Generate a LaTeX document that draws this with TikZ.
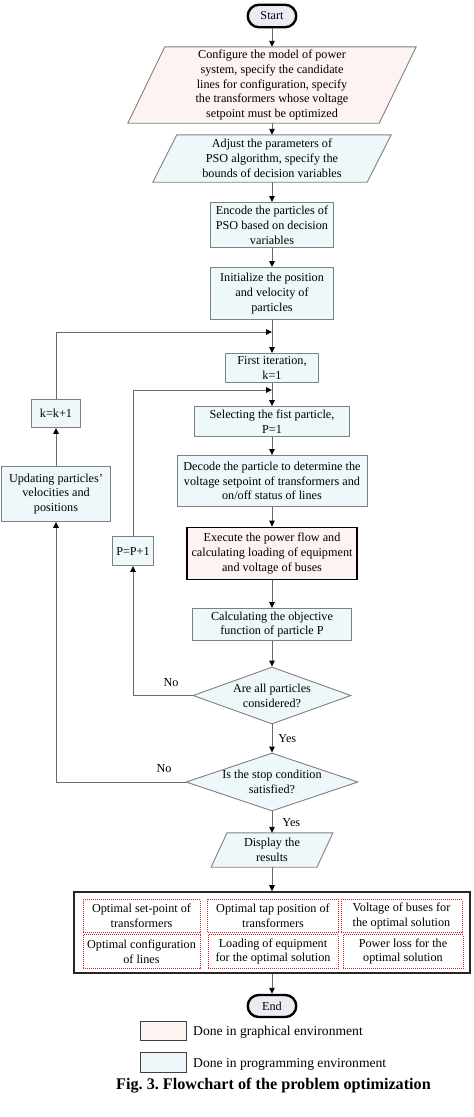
\documentclass[tikz,border=0pt]{standalone}
\usepackage{fontspec}
\setmainfont{Liberation Serif}
\usetikzlibrary{shapes.geometric,shapes.misc,arrows.meta}
\pgfdeclarelayer{background}
\pgfsetlayers{background,main}
\definecolor{pinkf}{HTML}{FDF3F1}
\definecolor{bluef}{HTML}{EEF7FA}
\definecolor{bord}{HTML}{808080}
\definecolor{lin}{HTML}{6A6A6A}
\definecolor{termf}{HTML}{ECEBF3}
\definecolor{redd}{HTML}{D02828}
\frenchspacing
\begin{document}
\begin{tikzpicture}[x=1pt,y=-1pt,
  every node/.style={font=\fontsize{12.2}{14.8}\selectfont, align=center, inner sep=0pt},
  term/.style={rounded rectangle, draw=black, line width=2.4pt, fill=termf, minimum width=48.5pt, minimum height=22.5pt},
  box/.style={rectangle, draw=bord, line width=0.9pt, fill=bluef},
  pbox/.style={rectangle, draw=black, line width=1.8pt, fill=pinkf},
  txt/.style={rectangle},
  dia/.style={diamond, draw=bord, line width=0.9pt, fill=bluef, inner sep=-3pt},
  para/.style={draw=bord, line width=0.9pt},
  res/.style={rectangle, draw=redd, line width=0.9pt, dash pattern=on 1pt off 1pt, fill=white},
  arr/.style={draw=lin, line width=0.9pt, -{Triangle[length=6pt,width=5.5pt,color=black]}},
  lbl/.style={font=\fontsize{12.2}{14}\selectfont}
]
\useasboundingbox (0,0) rectangle (474,1117);

% main column
\node[term] (start) at (272,16) {Start};
\node[txt, minimum width=251pt, minimum height=76pt] (p1) at (272,85)
  {Configure the model of power\\system, specify the candidate\\lines for configuration, specify\\the transformers whose voltage\\setpoint must be optimized};
\node[txt, minimum width=214pt, minimum height=47pt] (p2) at (272,158.5)
  {Adjust the parameters of\\PSO algorithm, specify the\\bounds of decision variables};
\node[box, minimum width=123pt, minimum height=45pt] (enc) at (272,225)
  {Encode the particles of\\PSO based on decision\\variables};
\node[box, minimum width=123pt, minimum height=52pt] (init) at (272,293.5)
  {Initialize the position\\and velocity of\\particles};
\node[box, minimum width=93pt, minimum height=29pt] (first) at (272,368)
  {First iteration,\\k=1};
\node[box, minimum width=155pt, minimum height=30pt] (sel) at (272,421.5)
  {Selecting the fist particle,\\P=1};
\node[box, minimum width=190pt, minimum height=51pt] (dec) at (272,481)
  {Decode the particle to determine the\\voltage setpoint of transformers and\\on/off status of lines};
\node[pbox, minimum width=170pt, minimum height=52pt] (exe) at (272,553.5)
  {Execute the power flow and\\calculating loading of equipment\\and voltage of buses};
\node[box, minimum width=159pt, minimum height=32pt] (calc) at (272,624.5)
  {Calculating the objective\\function of particle P};
\node[dia, aspect=2.77, minimum width=158pt, minimum height=57pt] (d1) at (272,695.5)
  {Are all particles\\considered?};
\node[dia, aspect=2.97, minimum width=172pt, minimum height=58pt] (d2) at (272,782)
  {Is the stop condition\\satisfied?};
\node[txt, minimum width=105.5pt, minimum height=34pt] (disp) at (272,850)
  {Display the\\results};

% results box
\node[rectangle, draw=black!85, line width=1.6pt, fill=white, minimum width=396pt, minimum height=81pt] (big) at (272,932.5) {};
\node[res, minimum width=117pt, minimum height=33pt] (r11) at (141.5,916) {Optimal set-point of\\transformers};
\node[res, minimum width=131pt, minimum height=33pt] (r12) at (273,916) {Optimal tap position of\\transformers};
\node[res, minimum width=121pt, minimum height=33pt] (r13) at (401.5,916) {Voltage of buses for\\the optimal solution};
\node[res, minimum width=117pt, minimum height=34pt] (r21) at (141.5,951.5) {Optimal configuration\\of lines};
\node[res, minimum width=130pt, minimum height=34pt] (r22) at (273,951.5) {Loading of equipment\\for the optimal solution};
\node[res, minimum width=120pt, minimum height=34pt] (r23) at (403,951.5) {Power loss for the\\optimal solution};

\node[term, minimum height=22pt] (end) at (272,1006) {End};

% side loops
\node[box, minimum width=49pt, minimum height=28pt] (kk) at (56,413.5) {k=k+1};
\node[box, minimum width=109pt, minimum height=55pt] (upd) at (56,494)
  {Updating particles'\\velocities and\\positions};
\node[box, minimum width=41pt, minimum height=29pt] (pp) at (133,551) {P=P+1};

\coordinate (j1) at (272,332);
\coordinate (j2) at (272,390);

% parallelogram outlines
\begin{pgfonlayer}{background}
\draw[para, fill=pinkf] ([xshift=-18.5pt]p1.south west) -- ([xshift=-18.5pt]p1.south east)
  -- ([xshift=18.5pt]p1.north east) -- ([xshift=18.5pt]p1.north west) -- cycle;
\draw[para, fill=bluef] ([xshift=-12pt]p2.south west) -- ([xshift=-12pt]p2.south east)
  -- ([xshift=12pt]p2.north east) -- ([xshift=12pt]p2.north west) -- cycle;
\draw[para, fill=bluef] ([xshift=-8pt]disp.south west) -- ([xshift=-8pt]disp.south east)
  -- ([xshift=8pt]disp.north east) -- ([xshift=8pt]disp.north west) -- cycle;
\end{pgfonlayer}

% connectors
\draw[arr] (start.south) -- (p1.north);
\draw[arr] (p1.south) -- (p2.north);
\draw[arr] (p2.south) -- (enc.north);
\draw[arr] (enc.south) -- (init.north);
\draw[arr] (init.south) -- (first.north);
\draw[arr] (first.south) -- (sel.north);
\draw[arr] (sel.south) -- (dec.north);
\draw[arr] (dec.south) -- (exe.north);
\draw[arr] (exe.south) -- (calc.north);
\draw[arr] (calc.south) -- (d1.north);
\draw[arr] (d1.south) -- node[lbl, anchor=west, xshift=6pt] {Yes} (d2.north);
\draw[arr] (d2.south) -- node[lbl, anchor=west, xshift=10pt] {Yes} (disp.north);
\draw[arr] (disp.south) -- (big.north);
\draw[arr] (big.south) -- (end.north);

\draw[arr] (d1.west) -| (pp.south);
\draw[arr] (pp.north) |- (j2);
\draw[arr] (d2.west) -| (upd.south);
\draw[arr] (upd.north) -- (kk.south);
\draw[arr] (kk.north) |- (j1);

\node[lbl] (no1) at (171,683) {No};
\node[lbl] (no2) at (164,769) {No};

% legend
\node[rectangle, draw=black!75, line width=0.9pt, fill=pinkf, minimum width=46pt, minimum height=19pt] (lg1) at (163.5,1031) {};
\node[rectangle, draw=black!75, line width=0.9pt, fill=bluef, minimum width=46pt, minimum height=20pt] (lg2) at (163.5,1062.5) {};
\node[anchor=west, font=\fontsize{13.6}{15}\selectfont] (lt1) at (193,1032) {Done in graphical environment};
\node[anchor=west, font=\fontsize{13.6}{15}\selectfont] (lt2) at (193,1064) {Done in programming environment};

\node[font=\bfseries\fontsize{16.2}{18}\selectfont] (cap) at (273.5,1086) {Fig. 3. Flowchart of the problem optimization};
\end{tikzpicture}
\end{document}
